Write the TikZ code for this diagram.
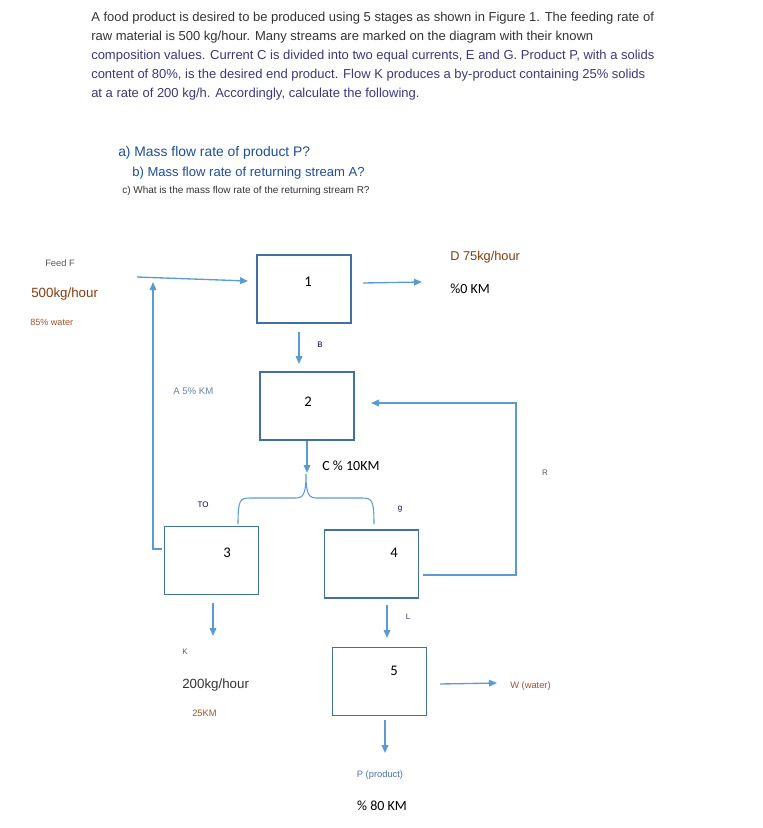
\documentclass[tikz,border=0pt]{standalone}
\usepackage{fontspec}
\setmainfont{Liberation Sans}
\newfontfamily\calibri{Carlito}
\usepackage{xcolor}
\usepackage{tikz}
\usetikzlibrary{arrows.meta, positioning, calc}
\definecolor{flowblue}{RGB}{91, 155, 213}
\definecolor{boxblue}{RGB}{65, 113, 156}
\definecolor{textnavy}{RGB}{60, 55, 125}
\definecolor{qblue}{RGB}{31, 78, 154}
\definecolor{rustbrown}{RGB}{132, 60, 12}
\definecolor{lightrust}{RGB}{160, 82, 45}

\begin{document}
\begin{tikzpicture}[x=0.75pt, y=-0.75pt,
    stage/.style={draw=boxblue, line width=1.1pt, minimum width=70.5pt, minimum height=51pt, inner sep=0pt},
    flow/.style={draw=flowblue, line width=1pt, -{Triangle[length=6pt, width=5pt]}},
    tag/.style={font=\fontsize{6}{7}\selectfont, text=black!65, inner sep=0pt},
    num/.style={font=\calibri\fontsize{11}{12}\selectfont, inner sep=0pt}]

    \useasboundingbox (0,0) rectangle (763,828);

    % 1. PROBLEM STATEMENT
    \node[anchor=north west, align=left, inner sep=0pt, font=\fontsize{9.75}{14.25}\selectfont] (intro) at (91,11.5) {%
        \textcolor{black!80}{A food product is desired to be produced using 5 stages as shown in Figure 1. The feeding rate of}\\
        \textcolor{black!80}{raw material is 500 kg/hour. Many streams are marked on the diagram with their known}\\
        \textcolor{textnavy}{composition values. Current C is divided into two equal currents, E and G. Product P, with a solids}\\
        \textcolor{textnavy}{content of 80\%, is the desired end product. Flow K produces a by-product containing 25\% solids}\\
        \textcolor{textnavy}{at a rate of 200 kg/h. Accordingly, calculate the following.}};

    \node[anchor=west, inner sep=0pt, text=qblue, font=\fontsize{10.4}{12}\selectfont] (qa) at (118,153) {a) Mass flow rate of product P?};
    \node[anchor=west, inner sep=0pt, text=qblue, font=\fontsize{9.8}{12}\selectfont] (qb) at (132,173) {b) Mass flow rate of returning stream A?};
    \node[anchor=west, inner sep=0pt, text=black!80, font=\fontsize{7.5}{8}\selectfont] (qc) at (122,191) {c) What is the mass flow rate of the returning stream R?};

    % 2. STAGES
    \node[stage] (s1) at (304,289) {};
    \node[stage] (s2) at (307,406) {};
    \node[stage] (s3) at (211.5,560.5) {};
    \node[stage] (s4) at (371.5,564) {};
    \node[stage] (s5) at (379.5,681.5) {};

    \node[num] (n1) at (308,282) {1};
    \node[num] (n2) at (308,402) {2};
    \node[num] (n3) at (227,553) {3};
    \node[num] (n4) at (394,553) {4};
    \node[num] (n5) at (394,671) {5};

    % 3. STREAM ENDS
    \coordinate (feedA) at (137,277);   \coordinate (feedB) at (248,281);
    \coordinate (retA)  at (162,549);   \coordinate (retA2) at (153,549);   \coordinate (retA3) at (153,282);
    \coordinate (outD)  at (363,283);   \coordinate (outD2) at (422,282);
    \coordinate (midB)  at (299,332);   \coordinate (midB2) at (299,364);
    \coordinate (midC)  at (307,441);   \coordinate (midC2) at (307,473);
    \coordinate (retR)  at (423,575);   \coordinate (retR2) at (516,575);
    \coordinate (retR3) at (516,403);   \coordinate (retR4) at (371,403);
    \coordinate (outK)  at (213,603);   \coordinate (outK2) at (213,636);
    \coordinate (midL)  at (387,605);   \coordinate (midL2) at (387,638);
    \coordinate (outP)  at (385,720);   \coordinate (outP2) at (385,753);
    \coordinate (outW)  at (440,684);   \coordinate (outW2) at (497,683);

    % 4. STREAMS
    \draw[flow] (feedA) -- (feedB);
    \draw[flow] (retA) -- (retA2) -- (retA3);
    \draw[flow] (outD) -- (outD2);
    \draw[flow] (midB) -- (midB2);
    \draw[flow] (midC) -- (midC2);
    \draw[flow] (retR) -- (retR2) -- (retR3) -- (retR4);
    \draw[flow] (outK) -- (outK2);
    \draw[flow] (midL) -- (midL2);
    \draw[flow] (outP) -- (outP2);
    \draw[flow] (outW) -- (outW2);

    % split of C into E and G
    \draw[flowblue, line width=0.8pt] (238,524) .. controls (238,500) and (240,498) .. (250,498) -- (296,498)
        .. controls (304,498) and (306,492) .. (306,474)
        .. controls (306,492) and (308,498) .. (316,498) -- (362,498)
        .. controls (372,498) and (374,500) .. (374,524);

    % 5. STREAM LABELS
    \node[tag, anchor=west, font=\fontsize{7}{8}\selectfont] (fF) at (45,263) {Feed F};
    \node[anchor=west, inner sep=0pt, text=rustbrown, font=\fontsize{10}{12}\selectfont] (fRate) at (31,294) {500kg/hour};
    \node[anchor=west, inner sep=0pt, text=lightrust, font=\fontsize{6.8}{8}\selectfont] (fWater) at (30,322) {85\% water};

    \node[anchor=west, inner sep=0pt, text=rustbrown, font=\fontsize{9.6}{12}\selectfont] (dRate) at (450,257) {D 75kg/hour};
    \node[anchor=west, inner sep=0pt, font=\calibri\fontsize{10.5}{12}\selectfont] (dKM) at (450,289) {\%0 KM};

    \node[tag, text=black!70!blue] (lB) at (320,345) {B};
    \node[anchor=west, inner sep=0pt, text=qblue!70, font=\fontsize{7.2}{8}\selectfont] (lA) at (173,391) {A 5\% KM};
    \node[anchor=west, inner sep=0pt, font=\calibri\fontsize{10.5}{12}\selectfont] (lC) at (322,466) {C \% 10KM};
    \node[tag, text=black!70!blue] (lTO) at (203,505) {TO};
    \node[tag, text=black!70!blue] (lg) at (400,509) {g};
    \node[tag] (lR) at (545,473) {R};

    \node[tag] (lK) at (185,652) {K};
    \node[anchor=west, inner sep=0pt, text=black!80, font=\fontsize{10}{12}\selectfont] (kRate) at (182,685) {200kg/hour};
    \node[anchor=west, inner sep=0pt, text=lightrust, font=\fontsize{7}{8}\selectfont] (kKM) at (192,713) {25KM};

    \node[tag, text=textnavy] (lL) at (408,617) {L};
    \node[inner sep=0pt, text=qblue!80, font=\fontsize{7}{8}\selectfont] (lP) at (380,775) {P (product)};
    \node[inner sep=0pt, font=\calibri\fontsize{10.5}{12}\selectfont] (pKM) at (382,806) {\% 80 KM};
    \node[anchor=west, inner sep=0pt, text=lightrust, font=\fontsize{7}{8}\selectfont] (lW) at (510,686) {W (water)};

\end{tikzpicture}
\end{document}
